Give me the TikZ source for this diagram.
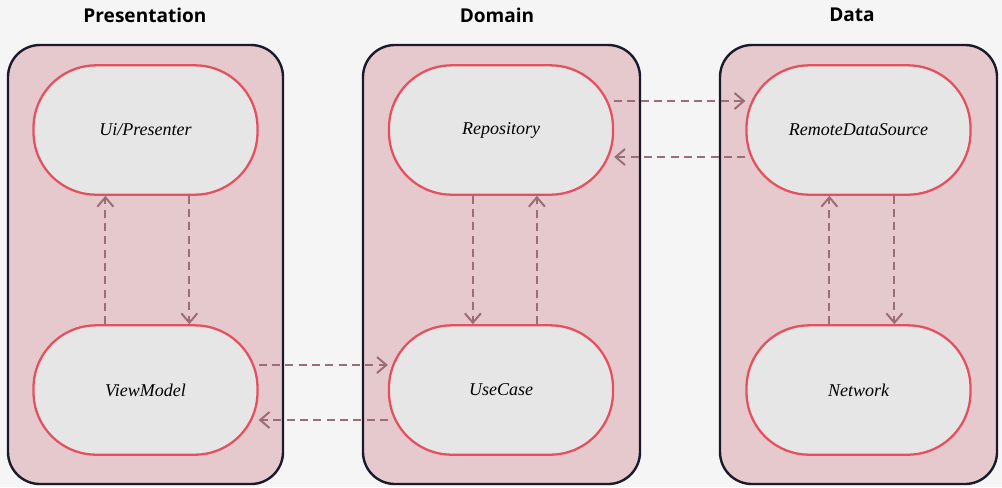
\documentclass[tikz,border=0pt]{standalone}
\usepackage{fontspec}
\newfontfamily\hdr{Open Sans}
\newfontfamily\lbl{Liberation Serif}
\usetikzlibrary{arrows.meta}
\definecolor{bg}{HTML}{F5F5F5}
\definecolor{colfill}{HTML}{E6C9CD}
\definecolor{colline}{HTML}{1A1A2A}
\definecolor{boxfill}{HTML}{E6E6E6}
\definecolor{boxline}{HTML}{E5505E}
\definecolor{arr}{HTML}{9A6E78}
\begin{document}
\begin{tikzpicture}[x=0.75pt,y=-0.75pt,
  col/.style={draw=colline,line width=1.8pt,fill=colfill,rounded corners=24pt},
  box/.style={draw=boxline,line width=1.7pt,fill=boxfill,rounded corners=47pt,minimum width=168pt,minimum height=97pt,font=\lbl\itshape\fontsize{13.5}{16}\selectfont},
  hd/.style={font=\hdr\bfseries\fontsize{14.3}{17}\selectfont},
  ar/.style={draw=arr,line width=1.5pt,dash pattern=on 6pt off 4pt,-{Straight Barb[length=7pt,width=12pt]}}]
\fill[bg] (0,0) rectangle (1002,487);
\useasboundingbox (0,0) rectangle (1002,487);
\node[hd] (h1) at (145,15) {Presentation};
\node[hd] (h2) at (497,15) {Domain};
\node[hd] (h3) at (852,15) {Data};
\draw[col] (8,45) rectangle (283,484);
\draw[col] (363,45) rectangle (640,484);
\draw[col] (720,45) rectangle (997,484);
\node[box] (ui) at (145.5,130) {Ui/Presenter};
\node[box] (vm) at (145.5,390) {ViewModel};
\node[box] (rp) at (501,130) {Repository};
\node[box] (uc) at (501,390) {UseCase};
\node[box] (rd) at (858.5,130) {RemoteDataSource};
\node[box] (nw) at (858.5,390) {Network};
\draw[ar] (vm.south west |- vm.north) ++(73,0) coordinate(a1) -- (a1 |- ui.south);
\draw[ar] (ui.south west) ++(157,0) coordinate(a2) -- (a2 |- vm.north);
\draw[ar] (rp.south west) ++(85,0) coordinate(a3) -- (a3 |- uc.north);
\draw[ar] (uc.north west) ++(149,0) coordinate(a4) -- (a4 |- rp.south);
\draw[ar] (nw.north west) ++(84,0) coordinate(a5) -- (a5 |- rd.south);
\draw[ar] (rd.south west) ++(149,0) coordinate(a6) -- (a6 |- nw.north);
\draw[ar] (vm.east) ++(0,-25) coordinate(b1) -- (b1 -| uc.west);
\draw[ar] (uc.west) ++(0,30) coordinate(b2) -- (b2 -| vm.east);
\draw[ar] (rp.east) ++(0,-29) coordinate(b3) -- (b3 -| rd.west);
\draw[ar] (rd.west) ++(0,27) coordinate(b4) -- (b4 -| rp.east);
\end{tikzpicture}
\end{document}
